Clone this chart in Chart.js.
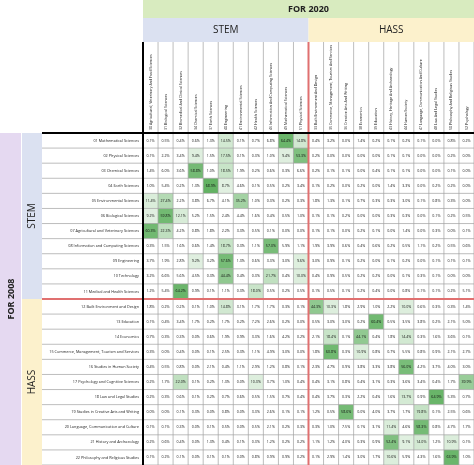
<!DOCTYPE html>
<html><head><meta charset="utf-8">
<script src="https://cdn.jsdelivr.net/npm/chart.js@4"></script>
<style>html,body{margin:0;padding:0;background:#fff}</style>
</head><body>
<canvas id="c" width="474" height="465"></canvas>
<script>
const cols = ["30 Agricultural, Veterinary And Food Sciences","31 Biological Sciences","32 Biomedical And Clinical Sciences","34 Chemical Sciences","37 Earth Sciences","40 Engineering","41 Environmental Sciences","42 Health Sciences","46 Information And Computing Sciences","49 Mathematical Sciences","51 Physical Sciences","33 Built Environment And Design","35 Commerce, Management, Tourism And Services","36 Creative Arts And Writing","38 Economics","39 Education","43 History, Heritage And Archaeology","44 Human Society","47 Language, Communication And Culture","48 Law And Legal Studies","50 Philosophy And Religious Studies","52 Psychology"];
const rows = ["01 Mathematical Sciences","02 Physical Sciences","03 Chemical Sciences","04 Earth Sciences","05 Environmental Sciences","06 Biological Sciences","07 Agricultural and Veterinary Sciences","08 Information and Computing Sciences","09 Engineering","10 Technology","11 Medical and Health Sciences","12 Built Environment and Design","13 Education","14 Economics","15 Commerce, Management, Tourism and Services","16 Studies in Human Society","17 Psychology and Cognitive Sciences","18 Law and Legal Studies","19 Studies in Creative Arts and Writing","20 Language, Communication and Culture","21 History and Archaeology","22 Philosophy and Religious Studies"];
const values = [
[0.1,0.5,0.4,0.6,1.3,14.5,0.1,0.7,6.8,64.4,14.8,0.4,3.2,0.0,1.4,0.2,0.1,0.2,0.1,0.0,0.8,0.2],
[0.1,2.2,3.4,9.4,1.5,17.5,0.1,0.3,1.0,9.4,53.3,0.2,0.0,0.0,0.0,0.0,0.1,0.1,0.0,0.0,0.2,0.0],
[1.4,6.0,3.6,58.8,1.0,18.5,1.9,0.2,0.6,0.3,6.6,0.2,0.1,0.1,0.0,0.4,0.1,0.1,0.0,0.0,0.1,0.0],
[1.0,5.4,0.2,1.3,68.9,8.7,4.6,0.1,0.5,0.2,3.4,0.1,0.2,0.0,0.2,0.0,1.4,3.3,0.0,0.2,0.2,0.0],
[11.4,27.4,2.2,3.8,6.7,4.1,35.2,1.0,0.3,0.2,0.3,1.8,1.3,0.1,0.7,0.3,0.3,3.0,0.1,0.8,0.3,0.0],
[9.2,59.8,12.1,5.2,1.5,2.4,4.4,1.6,0.4,0.5,1.0,0.1,0.1,0.2,0.0,0.0,0.3,0.3,0.0,0.1,0.2,0.5],
[60.3,22.3,4.2,0.8,1.8,2.2,3.3,0.5,0.1,0.0,0.0,0.1,0.1,0.0,0.2,0.1,0.0,1.4,0.0,0.3,0.0,0.1],
[0.3,1.5,1.6,0.6,1.4,18.7,0.3,1.1,57.0,5.9,1.1,1.9,3.9,0.6,0.4,0.6,0.2,0.5,1.1,0.2,0.5,0.6],
[3.7,1.9,2.8,9.2,3.2,57.6,1.3,0.6,3.3,3.0,9.6,3.0,0.9,0.1,0.2,0.0,0.1,0.2,0.0,0.1,0.1,0.1],
[3.2,6.6,5.6,4.5,0.3,44.4,0.4,0.3,21.7,0.4,10.0,0.4,0.9,0.5,0.2,0.2,0.0,0.1,0.3,0.1,0.0,0.0],
[1.2,5.4,64.2,0.9,0.1,1.1,0.3,18.0,0.5,0.2,0.5,0.1,0.5,0.1,0.2,0.4,0.0,0.8,0.1,0.1,0.2,5.1],
[1.8,0.2,0.2,0.1,1.0,14.8,3.1,1.7,1.7,0.3,0.1,44.3,10.3,1.8,2.9,1.0,2.2,10.0,0.6,0.3,0.3,1.4],
[0.1,0.4,3.4,1.7,0.2,1.7,0.2,7.2,2.6,0.2,0.0,0.5,3.0,3.0,0.2,60.4,0.5,3.5,3.8,0.2,2.1,5.0],
[0.7,0.3,0.3,0.0,0.6,1.9,0.9,3.3,1.6,4.2,0.2,2.1,18.4,0.1,44.1,0.4,1.8,14.4,0.3,1.6,3.6,0.1],
[0.3,0.0,0.4,0.0,0.1,2.5,0.3,1.1,4.9,3.0,0.0,1.8,60.8,0.3,10.9,0.8,0.7,5.5,0.8,0.9,2.1,2.7],
[0.4,0.5,0.8,0.0,2.1,0.4,1.1,2.9,1.2,0.8,0.1,2.3,4.7,0.9,3.8,3.3,3.8,56.0,4.2,3.7,4.0,3.0],
[0.2,1.7,22.0,0.1,0.2,1.3,0.0,10.3,3.7,1.0,0.4,0.4,3.1,0.8,0.4,3.1,0.3,3.6,3.4,0.4,1.7,39.9],
[0.2,0.3,0.6,0.1,0.2,0.7,0.6,0.5,1.5,0.7,0.4,0.4,3.7,0.3,2.2,0.4,1.6,13.7,0.9,64.9,5.3,0.7],
[0.0,0.0,0.1,0.3,0.0,0.8,0.0,3.3,2.6,0.1,0.1,1.2,0.5,58.6,0.0,4.0,3.7,1.7,19.8,0.1,2.5,0.6],
[0.1,0.1,0.3,0.0,0.1,0.5,0.0,0.5,2.1,0.2,0.3,0.3,1.0,7.5,0.1,3.1,11.4,4.6,58.3,0.8,4.7,1.7],
[0.2,0.6,0.4,0.0,1.3,0.4,0.1,0.3,1.2,0.2,0.2,1.1,1.2,4.0,0.3,0.9,52.4,9.1,14.0,1.2,10.9,0.1],
[0.1,0.2,0.1,0.0,0.1,0.1,0.0,0.8,0.9,0.9,0.2,0.1,2.9,1.4,3.0,1.7,10.6,5.9,4.3,1.6,63.9,1.0]
];
const stemCount = 11;

const points = [];
rows.forEach((r,i)=>cols.forEach((c,j)=>points.push({x:c,y:r,v:values[i][j]})));

function cellColor(v){
  const t = Math.min(1, v/68);
  const a=[255,255,255], b=[99,178,99];
  if (v < 8) return '#ffffff';
  return `rgb(${a.map((s,k)=>Math.round(s+(b[k]-s)*Math.pow(t,0.8))).join(',')})`;
}

const drawPlugin = {
  id:'grid',
  beforeDraw(chart){
    const ctx = chart.ctx, xs = chart.scales.x, ys = chart.scales.y;
    const L = xs.left, R = xs.right, T = ys.top, B = ys.bottom;
    const cw = (R-L)/cols.length, rh = (B-T)/rows.length;
    const split = L + cw*stemCount, hsplit = T + rh*stemCount;
    ctx.save();
    // header bands
    ctx.fillStyle='#d8ebbf'; ctx.fillRect(L,0,R-L,18);
    ctx.fillStyle='#dbe1f1'; ctx.fillRect(L,18,split-L,24);
    ctx.fillStyle='#fcf1cc'; ctx.fillRect(split,18,R-split,24);
    ctx.fillStyle='#e5d9f1'; ctx.fillRect(0,T,21,B-T);
    ctx.fillStyle='#dbe1f1'; ctx.fillRect(22,T,20,hsplit-T);
    ctx.fillStyle='#fcf1cc'; ctx.fillRect(22,hsplit,20,B-hsplit);
    ctx.fillStyle='#222'; ctx.textAlign='center'; ctx.textBaseline='middle';
    ctx.font='bold 9px "Open Sans", sans-serif';
    ctx.fillText('FOR 2020',(L+R)/2,9);
    ctx.font='10px "Open Sans", sans-serif';
    ctx.fillText('STEM',(L+split)/2,30);
    ctx.fillText('HASS',(split+R)/2,30);
    ctx.save(); ctx.translate(11,(T+B)/2); ctx.rotate(-Math.PI/2);
    ctx.font='bold 9px "Open Sans", sans-serif'; ctx.fillText('FOR 2008',0,0); ctx.restore();
    ctx.font='10px "Open Sans", sans-serif';
    ctx.save(); ctx.translate(32,(T+hsplit)/2); ctx.rotate(-Math.PI/2); ctx.fillText('STEM',0,0); ctx.restore();
    ctx.save(); ctx.translate(32,(hsplit+B)/2); ctx.rotate(-Math.PI/2); ctx.fillText('HASS',0,0); ctx.restore();
    // column labels
    ctx.font='3.6px "Open Sans", sans-serif'; ctx.textAlign='left';
    cols.forEach(c=>{
      const x = xs.getPixelForValue(c);
      ctx.save(); ctx.translate(x,T-3); ctx.rotate(-Math.PI/2); ctx.fillText(c,0,0); ctx.restore();
    });
    // row labels
    ctx.font='3.8px "Open Sans", sans-serif'; ctx.textAlign='right';
    rows.forEach(r=>ctx.fillText(r,L-4,ys.getPixelForValue(r)));
    // cells
    ctx.font='3.6px "Open Sans", sans-serif'; ctx.textAlign='center';
    points.forEach(p=>{
      const x = xs.getPixelForValue(p.x), y = ys.getPixelForValue(p.y);
      ctx.fillStyle=cellColor(p.v);
      ctx.fillRect(x-cw/2,y-rh/2,cw,rh);
      ctx.fillStyle='#111';
      ctx.fillText(p.v.toFixed(1)+'%',x,y);
    });
    // grid
    ctx.strokeStyle='#a0a0a0'; ctx.lineWidth=0.7;
    for(let j=0;j<=cols.length;j++){const x=L+j*cw;ctx.beginPath();ctx.moveTo(x,42);ctx.lineTo(x,B);ctx.stroke();}
    for(let i=0;i<=rows.length;i++){const y=T+i*rh;ctx.beginPath();ctx.moveTo(42,y);ctx.lineTo(R,y);ctx.stroke();}
    ctx.strokeStyle='#e07070'; ctx.lineWidth=2;
    ctx.beginPath();ctx.moveTo(split,42);ctx.lineTo(split,B);ctx.stroke();
    ctx.beginPath();ctx.moveTo(42,hsplit);ctx.lineTo(R,hsplit);ctx.stroke();
    ctx.strokeStyle='#000'; ctx.lineWidth=2;
    ctx.beginPath();ctx.moveTo(L,42);ctx.lineTo(L,B);ctx.stroke();
    ctx.beginPath();ctx.moveTo(42,T);ctx.lineTo(R,T);ctx.stroke();
    ctx.restore();
  }
};

new Chart(document.getElementById('c'),{
  type:'scatter',
  data:{datasets:[{data:points,pointRadius:0,pointHoverRadius:0}]},
  options:{
    responsive:false, animation:false,
    layout:{padding:{left:143,top:133,right:0,bottom:0}},
    plugins:{legend:{display:false},tooltip:{enabled:false}},
    scales:{
      x:{type:'category',labels:cols,offset:true,display:false},
      y:{type:'category',labels:rows,offset:true,display:false}
    }
  },
  plugins:[drawPlugin]
});
</script>
</body></html>
